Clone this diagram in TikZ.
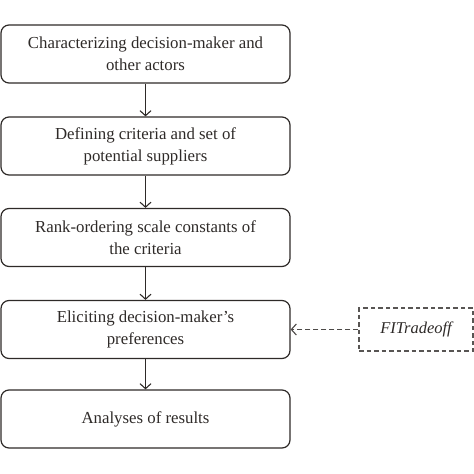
\documentclass[tikz,border=0pt]{standalone}
\usepackage{fontspec}
\setmainfont{Liberation Serif}
\usetikzlibrary{arrows.meta}
\definecolor{ink}{HTML}{2E2A28}
\begin{document}
\begin{tikzpicture}[x=1pt,y=-1pt,
  stepbox/.style={draw=ink,line width=1.2pt,rounded corners=8pt,minimum width=289pt,minimum height=58pt,
    align=center,text=ink,font=\fontsize{16.8}{22}\selectfont,inner sep=0pt},
  toolbox/.style={draw=ink!80,line width=1.2pt,dash pattern=on 4.5pt off 3pt,minimum width=114pt,minimum height=43pt,
    text=ink,font=\fontsize{16.5}{22}\selectfont\itshape,inner sep=0pt},
  flow/.style={draw=ink,line width=1.1pt,-{Straight Barb[length=5pt,width=11pt]}},
  dflow/.style={draw=ink!85,line width=1.1pt,dash pattern=on 5pt off 3pt,-{Straight Barb[length=5pt,width=11pt]}}]
\useasboundingbox (0,0) rectangle (474,474);
\node[stepbox] (s1) at (145.5,54) {Characterizing decision-maker and\\other actors};
\node[stepbox] (s2) at (145.5,146) {Defining criteria and set of\\potential suppliers};
\node[stepbox] (s3) at (145.5,237.5) {Rank-ordering scale constants of\\the criteria};
\node[stepbox] (s4) at (145.5,329.5) {Eliciting decision-maker’s\\preferences};
\node[stepbox] (s5) at (145.5,419) {Analyses of results};
\node[toolbox] (t) at (416,329.5) {FITradeoff};
\draw[flow] (s1) -- (s2);
\draw[flow] (s2) -- (s3);
\draw[flow] (s3) -- (s4);
\draw[flow] (s4) -- (s5);
\draw[dflow] (t.west) -- (s4.east);
\end{tikzpicture}
\end{document}
